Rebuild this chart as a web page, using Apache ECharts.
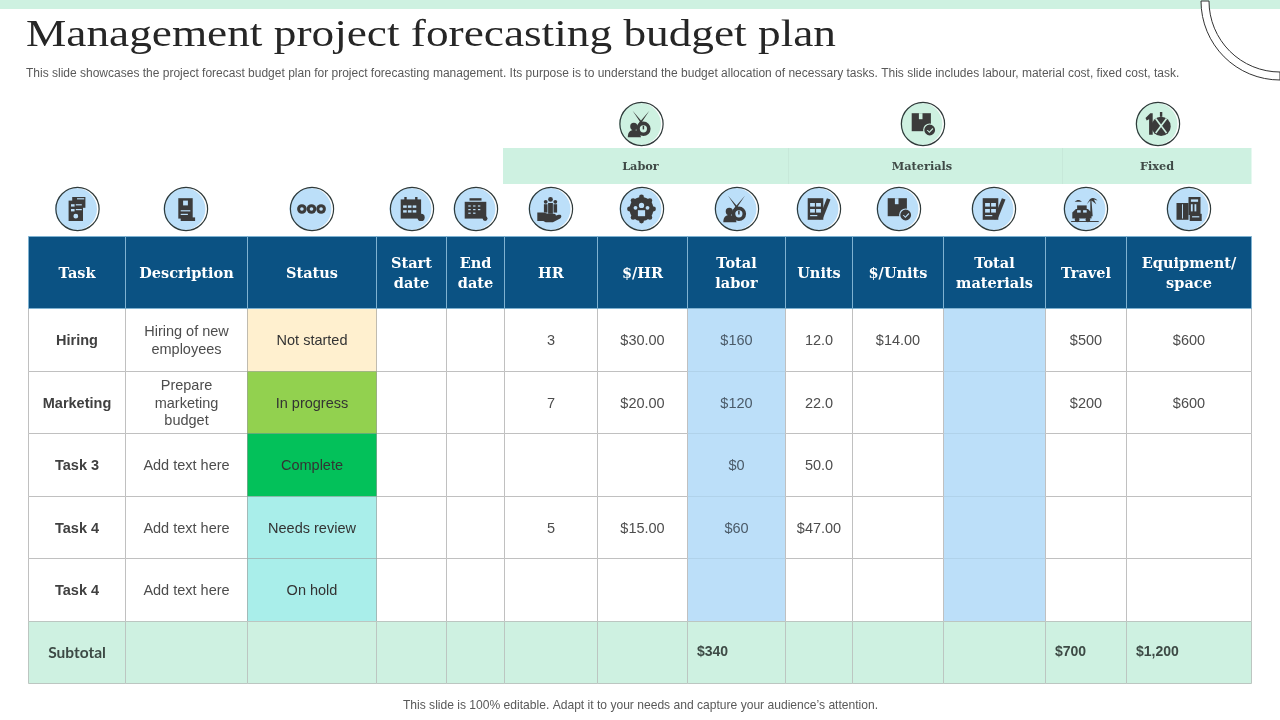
<!DOCTYPE html>
<html><head><meta charset="utf-8">
<style>html,body{margin:0;padding:0;background:#fff}#c{width:1280px;height:720px}</style>
<script src="https://cdn.jsdelivr.net/npm/echarts@6/dist/echarts.min.js"></script>
</head><body><div id="c"></div>
<script>
// ---------- content ----------
const titleText = 'Management project forecasting budget plan';
const subtitleText = 'This slide showcases the project forecast budget plan for project forecasting management. Its purpose is to understand the budget allocation of necessary tasks. This slide includes labour, material cost, fixed cost, task.';
const footerText = 'This slide is 100% editable. Adapt it to your needs and capture your audience\u2019s attention.';
const columns = ['Task','Description','Status','Start\ndate','End\ndate','HR','$/HR','Total\nlabor','Units','$/Units','Total\nmaterials','Travel','Equipment/\nspace'];
const groups = ['Labor','Materials','Fixed'];
const tasks = ['Hiring','Marketing','Task 3','Task 4','Task 4'];
const descriptions = ['Hiring of new\nemployees','Prepare\nmarketing\nbudget','Add text here','Add text here','Add text here'];
const statuses = ['Not started','In progress','Complete','Needs review','On hold'];
const startDates = ['','','','',''];
const endDates = ['','','','',''];
const hours = ['3','7','','5',''];
const ratesPerHour = ['$30.00','$20.00','','$15.00',''];
const totalLabor = ['$160','$120','$0','$60',''];
const units = ['12.0','22.0','50.0','$47.00',''];
const ratesPerUnit = ['$14.00','','','',''];
const totalMaterials = ['','','','',''];
const travel = ['$500','$200','','',''];
const equipment = ['$600','$600','','',''];
const subtotalRow = ['Subtotal','','','','','','','$340','','','','$700','$1,200'];
const columnIcons = ['task','doc','status','cal','cal2','hand','team','labor','sheet','box','sheet','travel','equip'];
const groupIcons = ['labor','box','fixed'];

// ---------- layout ----------
const colEdges = [28.5,125.5,247.5,376.5,446.5,504.5,597.5,687.5,785.5,852.5,943.5,1045.5,1126.5,1251.5];
const rowEdges = [236.5,308.5,371.5,433.5,496.5,558.5,621.5,683.5];
const groupEdges = [503,789,1063,1251];
const iconX = [77.5,186,312,412,476,551,642,737,819,899,994,1086,1189];
const groupIconX = [641.5,923,1158];
const statusFill = ['#fff0cf','#92d14f','#03c15a','#a9eeea','#a9eeea'];
const DARK='#3b3b3b', BLUE='#bcdff9', MINT='#cef1e1', NAVY='#0b5283';
const SANS='"Liberation Sans",Arial,sans-serif', SLAB='"DejaVu Serif",serif', LATO='Lato,"Liberation Sans",sans-serif';

// icon shapes in a 24-unit box: [kind,...geometry,colourFlag] 0 = dark, 1 = disc colour
const iconShapes = {
  task:[['r',8,2,11,9,0],['r',5,5,12,17,0],['r',7,8,3,2,1],['r',11,8,5,1,1],['r',7,12,3,2,1],['r',11,12,5,1,1],['c',11,18,2,1],['r',12,3,6,1,1]],
  doc:[['r',6,3,12,17,0],['r',8,19,12,3,0],['r',10,5,4,4,1],['r',8,13,8,1,1],['r',8,16,6,1,1]],
  status:[['c',4,12,4,0],['c',12,12,4,0],['c',20,12,4,0],['c',4,12,1.5,1],['c',12,12,1.5,1],['c',20,12,1.5,1]],
  cal:[['r',3,4,17,16,0],['r',6,2,2,3,0],['r',15,2,2,3,0],['r',5,9,3,2,1],['r',9,9,3,2,1],['r',13,9,3,2,1],['r',5,13,3,2,1],['r',9,13,3,2,1],['r',13,13,3,2,1],['c',20,19,3,0]],
  cal2:[['r',3,6,18,14,0],['r',7,3,10,2,0],['r',6,9,2,1,1],['r',10,9,2,1,1],['r',14,9,2,1,1],['r',6,12,2,1,1],['r',10,12,2,1,1],['r',14,12,2,1,1],['r',6,15,2,1,1],['r',10,15,2,1,1],['c',20,20,2,0]],
  hand:[['c',12,4,2,0],['r',10,7,4,9,0],['c',8,6,1.6,0],['r',6.5,8,3,7,0],['c',16,6,1.6,0],['r',14.5,8,3,7,0],['p','M1 15h5l4 1h5c2 0 2 3 0 3h-3l6-2c3-1 4 1 2 3l-6 3H8l-2-1H1z']],
  team:[['c',12,12,10,0],['c',12,2,2,0],['c',12,22,2,0],['c',2,12,2,0],['c',22,12,2,0],['c',5,5,2,0],['c',19,5,2,0],['c',5,19,2,0],['c',19,19,2,0],['c',12,9,2.2,1],['c',7,11,1.6,1],['c',17,11,1.6,1],['r',9,13,6,5,1]],
  labor:[['p','M5 1l7 8 7-8-6 9 2 3h-6l2-3z'],['c',14,16,6,0],['c',14,16,3,1],['r',13.4,13.5,1.2,3,0],['c',6,14,3,0],['p','M1 23c0-4 2-6 5-6s5 2 6 6z']],
  sheet:[['r',3,3,13,18,0],['r',5,7,4,3,1],['r',10,7,4,3,1],['r',5,12,4,3,1],['r',10,12,4,3,1],['r',5,17,6,1,1],['p','M19 3l3 1-6 15-3 2 0-3z']],
  box:[['r',3,3,16,15,0],['r',9,3,3,5,1],['c',18,17,5.5,1],['c',18,17,4.5,0],['p','M15.5 17l1 0 1.2 1.2 2.6-2.8 .7 .7-3.3 3.4z',1]],
  travel:[['p','M3 6c2-2 4-2 6 0z'],['p','M15 5c1-3 5-3 7 0l-3-1 2 4-4-3 0 0 1 13h-2l-0-13-3 3z'],['r',5,9,8,4,0],['p','M1 15l3-3h10l3 3v5H1z'],['c',5,21,2,0],['c',14,21,2,0],['r',5,13,3,2,1],['r',10,13,3,2,1],['r',0,22,23,.8,0]],
  equip:[['r',12,2,10,15,0],['r',14,4,6,2,1],['r',14,8,1.5,6,1],['r',17,8,1.5,6,1],['r',2,7,10,14,0],['r',6.6,8,.8,12,1],['r',13,16,10,6,0],['r',15,18,6,1,1]],
  fixed:[['p','M6 3l-4 4 1 2 2-1 0 13h3V3z'],['c',15,14,8,0],['r',14,2,2,4,0],['p','M10 8l1-1 9 12-1 1z',1],['p','M20 8l-1-1-9 12 1 1z',1]]
};

// ---------- build table cells ----------
const bodyColumns = [tasks,descriptions,statuses,startDates,endDates,hours,ratesPerHour,totalLabor,units,ratesPerUnit,totalMaterials,travel,equipment];
const cells = [];
columns.forEach((t,c)=>cells.push({c,r:0,text:t,fill:NAVY,stroke:'#7fb2d1',color:'#fff',font:'bold 14.5px '+SLAB,lh:20,dy:1.5,z:3}));
bodyColumns.forEach((col,c)=>col.forEach((t,i)=>{
  let fill='#fff', color='#4d4d4d', font='14.5px '+SANS, stroke='#c0c0c0', z=1;
  if(c===0){font='bold 14.5px '+SANS;color='#404040';}
  if(c===2){fill=statusFill[i];color='#333';stroke='rgba(120,120,120,.3)';z=2;}
  if(c===7||c===10){fill=BLUE;stroke='#b0d2ea';color='#4a5a68';z=0;}
  cells.push({c,r:i+1,text:t,fill,stroke,color,font,lh:17.5,dy:1,z});
}));
subtotalRow.forEach((t,c)=>cells.push({c,r:6,text:t,fill:MINT,stroke:'#bcc6c1',color:'#3d4a45',font:c===0?'bold 15.5px '+LATO:'bold 14px '+SANS,lh:17,left:c>0,dy:0,z:3}));
// blue columns first, so neighbours' grey borders show; status fills and bands last
cells.sort((a,b)=>a.z-b.z);

const tableData = cells.map(k=>[colEdges[k.c],rowEdges[k.r],colEdges[k.c+1],rowEdges[k.r+1]]);
const groupData = groups.map((g,i)=>[groupEdges[i],148,groupEdges[i+1],184]);
const iconData = columnIcons.map((n,i)=>[iconX[i],209]).concat(groupIcons.map((n,i)=>[groupIconX[i],124]));
const iconNames = columnIcons.concat(groupIcons);

function renderCell(params,api){
  const k=cells[params.dataIndex];
  const a=api.coord([api.value(0),api.value(1)]), b=api.coord([api.value(2),api.value(3)]);
  const kids=[{type:'rect',shape:{x:a[0],y:a[1],width:b[0]-a[0],height:b[1]-a[1]},style:{fill:k.fill,stroke:k.stroke,lineWidth:1}}];
  if(k.text) kids.push({type:'text',style:{text:k.text,x:k.left?a[0]+9.5:(a[0]+b[0])/2,y:(a[1]+b[1])/2+k.dy,align:k.left?'left':'center',verticalAlign:'middle',font:k.font,fill:k.color,lineHeight:k.lh}});
  return {type:'group',children:kids};
}
function renderGroup(params,api){
  const a=api.coord([api.value(0),api.value(1)]), b=api.coord([api.value(2),api.value(3)]);
  const labelX=api.coord([groupIconX[params.dataIndex]-1,0])[0];
  return {type:'group',children:[
    {type:'rect',shape:{x:a[0],y:a[1],width:b[0]-a[0],height:b[1]-a[1]},style:{fill:MINT}},
    {type:'rect',shape:{x:b[0]-0.5,y:a[1],width:1,height:b[1]-a[1]},style:{fill:params.dataIndex<2?'#c0e0d2':MINT}},
    {type:'text',style:{text:groups[params.dataIndex],x:labelX,y:(a[1]+b[1])/2+1.5,align:'center',verticalAlign:'middle',font:'bold 11.3px '+SLAB,fill:'#3f4a46'}}
  ]};
}
function renderIcon(params,api){
  const p=api.coord([api.value(0),api.value(1)]);
  const disc=params.dataIndex>=columnIcons.length?MINT:BLUE;
  const s=1.2, ox=p[0]-12*s-0.5, oy=p[1]-12*s;
  const col=f=>f===1?disc:DARK;
  const kids=[
    {type:'circle',shape:{cx:p[0],cy:p[1],r:21.6},style:{fill:'#fff',stroke:'none'}},
    {type:'circle',shape:{cx:p[0]-1.5,cy:p[1],r:21},style:{fill:disc,stroke:'none'}},
    {type:'circle',shape:{cx:p[0],cy:p[1],r:21.6},style:{fill:'none',stroke:'#2f3a3a',lineWidth:1.2}}
  ];
  iconShapes[iconNames[params.dataIndex]].forEach(g=>{
    if(g[0]==='r') kids.push({type:'rect',shape:{x:ox+g[1]*s,y:oy+g[2]*s,width:g[3]*s,height:g[4]*s},style:{fill:col(g[5])}});
    else if(g[0]==='c') kids.push({type:'circle',shape:{cx:ox+g[1]*s,cy:oy+g[2]*s,r:g[3]*s},style:{fill:col(g[4])}});
    else kids.push({type:'path',shape:{pathData:g[1]},x:ox,y:oy,scaleX:s,scaleY:s,style:{fill:col(g[2])}});
  });
  return {type:'group',children:kids};
}

const chart=echarts.init(document.getElementById('c'),null,{renderer:'canvas',width:1280,height:720});
chart.setOption({
  animation:false,
  backgroundColor:'#fff',
  grid:{left:0,right:0,top:0,bottom:0},
  xAxis:{type:'value',min:0,max:1280,show:false},
  yAxis:{type:'value',min:0,max:720,inverse:true,show:false},
  tooltip:{show:false},
  graphic:[
    {type:'rect',shape:{x:0,y:0,width:1280,height:9},style:{fill:MINT},z:1},
    {type:'sector',shape:{cx:1280,cy:1,r:79,r0:71,startAngle:Math.PI/2,endAngle:Math.PI},style:{fill:'#fff',stroke:'#333',lineWidth:1},z:2},
    {type:'text',x:26,y:36,style:{text:titleText,font:'38px "Liberation Serif",serif',fill:'#262626',verticalAlign:'middle'},scaleX:1.192,z:3},
    {type:'text',x:26,y:73.5,style:{text:subtitleText,font:'12px "Liberation Sans",Arial,sans-serif',fill:'#595959',verticalAlign:'middle'},z:3},
    {type:'text',x:640.5,y:705.5,style:{text:footerText,font:'12.08px "Liberation Sans",Arial,sans-serif',fill:'#595959',align:'center',verticalAlign:'middle'},z:3}
  ],
  series:[
    {type:'custom',silent:true,renderItem:renderCell,data:tableData,encode:{x:[0,2],y:[1,3]},clip:false},
    {type:'custom',silent:true,renderItem:renderGroup,data:groupData,encode:{x:[0,2],y:[1,3]},clip:false},
    {type:'custom',silent:true,renderItem:renderIcon,data:iconData,encode:{x:0,y:1},clip:false}
  ]
});
</script></body></html>
